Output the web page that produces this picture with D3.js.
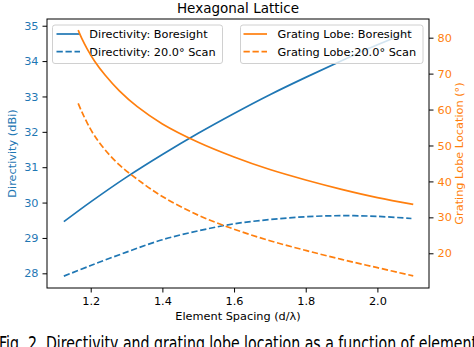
<!DOCTYPE html>
<html>
<head>
<meta charset="utf-8">
<script src="https://cdn.jsdelivr.net/npm/d3@7"></script>
<style>
  html, body { margin: 0; padding: 0; background: #fff; }
  svg { display: block; }
  text { font-family: "DejaVu Sans", sans-serif; }
</style>
</head>
<body>
<script>
// ---- data ----
const spacingDir = [1.125, 1.2, 1.3, 1.4, 1.5, 1.6, 1.7, 1.8, 1.9, 2.0, 2.095];
const dirBoresight = [29.46, 30.02, 30.72, 31.36, 31.96, 32.52, 33.05, 33.54, 34.01, 34.46, 34.86];
const dirScan = [27.92, 28.22, 28.60, 28.95, 29.20, 29.40, 29.52, 29.60, 29.63, 29.61, 29.55];

const spacingLobe = [1.165, 1.175, 1.19, 1.21, 1.24, 1.28, 1.33, 1.4, 1.5, 1.6, 1.7, 1.8, 1.9, 2.0, 2.1];
const lobeBoresight = [82.1, 79.8, 76.9, 73.6, 69.6, 65.2, 60.8, 56.0, 50.9, 46.8, 43.3, 40.4, 37.8, 35.5, 33.6];
const lobeScan = [61.7, 59.4, 56.3, 52.8, 48.8, 44.6, 40.6, 35.8, 30.6, 26.7, 23.5, 20.8, 18.3, 16.0, 13.7];

const xTicks = [1.2, 1.4, 1.6, 1.8, 2.0];
const leftTicks = [28, 29, 30, 31, 32, 33, 34, 35];
const rightTicks = [20, 30, 40, 50, 60, 70, 80];

const legendLeft = ["Directivity: Boresight", "Directivity: 20.0° Scan"];
const legendRight = ["Grating Lobe: Boresight", "Grating Lobe:20.0° Scan"];

const titleText = "Hexagonal Lattice";
const xLabel = "Element Spacing (d/λ)";
const yLeftLabel = "Directivity (dBi)";
const yRightLabel = "Grating Lobe Location (°)";
const caption = "Fig. 2. Directivity and grating lobe location as a function of element";

// ---- layout ----
const W = 474, H = 347;
const L = 47, R = 429, T = 19, B = 288;
const BLUE = "#1f77b4", ORANGE = "#ff7f0e";
const FS = 11.3;

const svg = d3.select("body").append("svg").attr("width", W).attr("height", H);

const x = d3.scaleLinear().domain([1.078, 2.144]).range([L, R]);
const yL = d3.scaleLinear().domain([27.585, 35.19]).range([B, T]);
const yR = d3.scaleLinear().domain([10.34, 85.2]).range([B, T]);

svg.append("clipPath").attr("id", "plotclip")
  .append("rect").attr("x", L).attr("y", T).attr("width", R - L).attr("height", B - T);

const lw = 1.7, dash = "6.3,2.7";

function drawLine(g, xs, ys, yScale, color, dashed) {
  const line = d3.line().x((d, i) => x(xs[i])).y(d => yScale(d)).curve(d3.curveCatmullRom.alpha(0.5));
  g.append("path").datum(ys).attr("d", line)
    .attr("fill", "none").attr("stroke", color).attr("stroke-width", lw)
    .attr("stroke-dasharray", dashed ? dash : null);
}

function drawLegend(g, x0, y0, w, h, labels, color, hx0, hx1, tx) {
  g.append("rect").attr("x", x0).attr("y", y0).attr("width", w).attr("height", h)
    .attr("rx", 2.5).attr("fill", "#fff").attr("fill-opacity", 0.8)
    .attr("stroke", "#d0d0d0").attr("stroke-width", 1);
  labels.forEach((lab, i) => {
    const yy = y0 + 9 + i * 17.7;
    g.append("line").attr("x1", hx0).attr("x2", hx1).attr("y1", yy).attr("y2", yy)
      .attr("stroke", color).attr("stroke-width", lw)
      .attr("stroke-dasharray", i === 1 ? dash : null);
    g.append("text").attr("x", tx).attr("y", yy).attr("dy", "0.36em")
      .attr("font-size", FS).attr("fill", "#000").text(lab);
  });
}

// ax1 (directivity)
const g1 = svg.append("g").attr("clip-path", "url(#plotclip)");
drawLine(g1, spacingDir, dirBoresight, yL, BLUE, false);
drawLine(g1, spacingDir, dirScan, yL, BLUE, true);
drawLegend(svg, 52.5, 25, 170, 38.5, legendLeft, BLUE, 56.5, 80, 89.3);

// ax2 (grating lobe) drawn on top
const g2 = svg.append("g").attr("clip-path", "url(#plotclip)");
drawLine(g2, spacingLobe, lobeBoresight, yR, ORANGE, false);
drawLine(g2, spacingLobe, lobeScan, yR, ORANGE, true);
drawLegend(svg, 240.5, 25, 182.5, 38.5, legendRight, ORANGE, 243.5, 267, 277.5);

// frame
svg.append("rect").attr("x", L).attr("y", T).attr("width", R - L).attr("height", B - T)
  .attr("fill", "none").attr("stroke", "#000").attr("stroke-width", 1);

// axes
const axB = svg.append("g").attr("transform", `translate(0,${B})`)
  .call(d3.axisBottom(x).tickValues(xTicks).tickFormat(d3.format(".1f")).tickSize(4.5).tickPadding(4));
const axL = svg.append("g").attr("transform", `translate(${L},0)`)
  .call(d3.axisLeft(yL).tickValues(leftTicks).tickFormat(d3.format("d")).tickSize(4.5).tickPadding(4));
const axR = svg.append("g").attr("transform", `translate(${R},0)`)
  .call(d3.axisRight(yR).tickValues(rightTicks).tickFormat(d3.format("d")).tickSize(4.5).tickPadding(4));

[axB, axL, axR].forEach(a => {
  a.select(".domain").remove();
  a.selectAll("line").attr("stroke", "#000");
  a.selectAll("text").attr("font-size", FS).attr("font-family", "DejaVu Sans, sans-serif");
});
axB.selectAll("text").attr("fill", "#000");
axL.selectAll("text").attr("fill", BLUE);
axR.selectAll("text").attr("fill", ORANGE);

// title and labels
svg.append("text").attr("x", (L + R) / 2).attr("y", 13).attr("text-anchor", "middle")
  .attr("font-size", 13.5).attr("fill", "#000").text(titleText);
svg.append("text").attr("x", (L + R) / 2).attr("y", 320).attr("text-anchor", "middle")
  .attr("font-size", FS).attr("fill", "#000").text(xLabel);
svg.append("text").attr("transform", `translate(16,${(T + B) / 2}) rotate(-90)`)
  .attr("text-anchor", "middle").attr("font-size", FS).attr("fill", BLUE).text(yLeftLabel);
svg.append("text").attr("transform", `translate(463,${(T + B) / 2}) rotate(-90)`)
  .attr("text-anchor", "middle").attr("font-size", FS).attr("fill", ORANGE).text(yRightLabel);

// caption of the source figure, cut by the bottom edge as in the reference
svg.append("text").attr("x", -1).attr("y", 350)
  .attr("font-family", "Liberation Serif, Times New Roman, serif")
  .attr("font-size", 20).attr("fill", "#000")
  .attr("textLength", 478).attr("lengthAdjust", "spacingAndGlyphs")
  .text(caption);
</script>
</body>
</html>
